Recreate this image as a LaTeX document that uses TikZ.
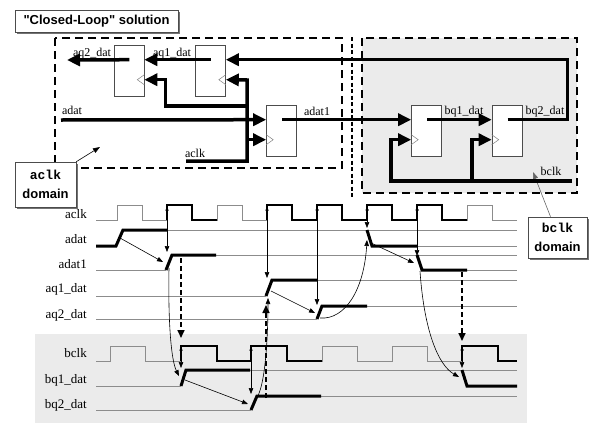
\documentclass[tikz,border=0pt]{standalone}
\usepackage{fontspec}
\setmainfont{Liberation Serif}
\newfontfamily\boxsans{Liberation Sans}
\newfontfamily\boxmono{Liberation Mono}
\usetikzlibrary{arrows.meta,calc,shadows}

\begin{document}
\begin{tikzpicture}[x=1pt, y=-1pt,
    ff/.style={draw=black!70, line width=0.6pt, fill=white, minimum width=30pt, minimum height=51pt, inner sep=0pt},
    clktri/.style={draw=black!50, line width=0.5pt},
    wire/.style={line width=3.5pt, -{Triangle[length=13pt,width=12pt]}},
    domainbox/.style={line width=2.2pt, dash pattern=on 8pt off 5pt},
    flabel/.style={font=\fontsize{12}{12}\selectfont, inner sep=0pt, anchor=base},
    sig/.style={font=\fontsize{13}{13}\selectfont, inner sep=0pt, anchor=base east},
    textbox/.style={draw=black!70, line width=0.6pt, fill=white, align=center, inner sep=0pt,
        general shadow={fill=black!55, shadow xshift=2pt, shadow yshift=-2pt}},
    lvl/.style={black!45, line width=0.8pt},
    hi/.style={line width=3pt},
    clkhi/.style={line width=2pt},
    cause/.style={line width=0.6pt, -{Triangle[length=6pt,width=4.5pt]}},
    xing/.style={line width=1.6pt, dash pattern=on 5pt off 3pt, -{Triangle[length=8pt,width=7pt]}},
    edgedot/.style={circle, fill, inner sep=0pt, minimum size=3.5pt}
]
    \useasboundingbox (0,0) rectangle (600,434);

    % Domains
    \fill[black!8] (35,334) rectangle (527,423);
    \filldraw[domainbox, fill=black!8] (362,38) rectangle (577,193);
    \draw[domainbox] (55,38) rectangle (342,168);
    \draw[line width=1.4pt, dash pattern=on 4pt off 2.5pt] (352,37) -- (352,198);

    % Boxes with text
    \node[textbox, font=\boxsans\bfseries\fontsize{13}{13}\selectfont, minimum width=163pt, minimum height=22pt] (title) at (96.5,21) {"Closed-Loop" solution};
    \node[textbox, font=\fontsize{13}{19}\selectfont, minimum width=61pt, minimum height=45pt] (aclkdom) at (45.5,184.5) {{\boxmono\bfseries aclk}\\{\boxsans\bfseries domain}};
    \node[textbox, font=\fontsize{13}{19}\selectfont, minimum width=59pt, minimum height=41pt] (bclkdom) at (557.5,237.5) {{\boxmono\bfseries bclk}\\{\boxsans\bfseries domain}};
    \coordinate (aclkdomtip) at (100,147);
    \coordinate (bclkdomtip) at (533,172);
    \draw[line width=0.6pt, -{Triangle[length=7pt,width=5pt]}] (aclkdom.north east) -- (aclkdomtip);
    \draw[black!60, line width=0.6pt, -{Triangle[length=7pt,width=5pt]}] ([xshift=-7pt]bclkdom.north) -- (bclkdomtip);

    % Flip-flops
    \node[ff] (ffaq2) at (129,70.5) {};
    \node[ff] (ffaq1) at (210.5,70.5) {};
    \node[ff] (ffadat1) at (281.5,130.5) {};
    \node[ff] (ffbq1) at (426.5,130.5) {};
    \node[ff] (ffbq2) at (507,130.5) {};

    % Pins
    \foreach \f in {aq2,aq1} {
        \coordinate (\f-d) at ($(ff\f.north east)+(0,15)$);
        \coordinate (\f-c) at ($(ff\f.north east)+(0,35)$);
        \coordinate (\f-q) at ($(ff\f.north east)+(-15,15)$);
        \draw[clktri] ($(\f-c)+(0,-5)$) -- ++(-7,5) -- ++(7,5);
    }
    \foreach \f in {adat1,bq1,bq2} {
        \coordinate (\f-d) at ($(ff\f.north west)+(0,15)$);
        \coordinate (\f-c) at ($(ff\f.north west)+(0,35)$);
        \coordinate (\f-q) at ($(ff\f.north west)+(16,15)$);
        \draw[clktri] ($(\f-c)+(0,-5)$) -- ++(7,5) -- ++(-7,5);
    }
    \coordinate (aq2out) at (67,60);
    \coordinate (adatin) at (61,120);
    \coordinate (aclkin) at (186,161);
    \coordinate (aclkbus) at (247,80);
    \coordinate (aclktap) at (247,106);
    \coordinate (bclkin) at (572,181);
    \coordinate (bclktap) at (472,181);

    % Wires
    \draw[wire] (bq2-q) -- ++(60,0) |- (aq1-d);
    \draw[wire] (aq1-q) -- (aq2-d);
    \draw[wire] (aq2-q) -- (aq2out);
    \draw[wire] (adatin) -- (adat1-d);
    \draw[wire] (adat1-q) -- (bq1-d);
    \draw[wire] (bq1-q) -- (bq2-d);
    \draw[wire] (aclkin) -| (aclkbus) -- (aq1-c);
    \draw[wire] (aclktap) -| ([xshift=21pt]aq2-c) -- (aq2-c);
    \draw[wire] (aclkbus |- adat1-c) -- (adat1-c);
    \draw[wire] (bclkin) -| ([xshift=-20pt]bq1-c) -- (bq1-c);
    \draw[wire] (bclktap) |- (bq2-c);

    % Wire labels
    \node[flabel] (lblaq2) at (92,56) {aq2\_dat};
    \node[flabel] (lblaq1) at (172,56) {aq1\_dat};
    \node[flabel] (lbladat) at (72,114) {adat};
    \node[flabel] (lblaclk) at (195,157) {aclk};
    \node[flabel] (lbladat1) at (317,115) {adat1};
    \node[flabel] (lblbq1) at (464,114) {bq1\_dat};
    \node[flabel] (lblbq2) at (545,114) {bq2\_dat};
    \node[flabel] (lblbclk) at (551,175) {bclk};

    % Signal names
    \node[sig] (saclk) at (87,218) {aclk};
    \node[sig] (sadat) at (87,243) {adat};
    \node[sig] (sadat1) at (87,268) {adat1};
    \node[sig] (saq1) at (87,292) {aq1\_dat};
    \node[sig] (saq2) at (87,318) {aq2\_dat};
    \node[sig] (sbclk) at (87,357) {bclk};
    \node[sig] (sbq1) at (87,383) {bq1\_dat};
    \node[sig] (sbq2) at (87,408) {bq2\_dat};

    % Clocks
    \draw[lvl] (96,220) \foreach \t in {117,167,...,467} { -- (\t,220) -- (\t,205) -- (\t+25,205) -- (\t+25,220) } -- (517,220);
    \draw[clkhi] (167,220) -- (167,205) -- (192,205) -- (192,220) -- (217,220);
    \draw[clkhi] (267,220) \foreach \t in {267,317,367,417} { -- (\t,220) -- (\t,205) -- (\t+25,205) -- (\t+25,220) -- (\t+50,220) };
    \draw[lvl] (96,361) \foreach \t in {110,181,251,322,392,462} { -- (\t,361) -- (\t,346) -- (\t+35.5,346) -- (\t+35.5,361) } -- (517,361);
    \draw[clkhi] (181,361) -- (181,346) -- (216.5,346) -- (216.5,361) -- (251,361) -- (251,346) -- (286.5,346) -- (286.5,361) -- (322,361);
    \draw[clkhi] (462,361) -- (462,346) -- (497.5,346) -- (497.5,361) -- (517,361);
    \foreach \t in {167,267,317,367,417} \node[edgedot] (ae\t) at (\t,210) {};
    \foreach \t in {181,251,462} \node[edgedot] (be\t) at (\t,350) {};

    % Data
    \draw[lvl] (167,230) -- (517,230);
    \draw[lvl] (417,246) -- (517,246);
    \draw[hi] (96,246) -- (116,246) -- (123,230) -- (167,230);
    \draw[hi] (367,230) -- (372,246) -- (417,246);
    \draw[lvl] (96,270) -- (166,270);
    \draw[lvl] (216,255) -- (517,255);
    \draw[lvl] (467,270) -- (517,270);
    \draw[hi] (166,270) -- (172,255) -- (216,255);
    \draw[hi] (417,255) -- (422,270) -- (467,270);
    \draw[lvl] (96,296) -- (266,296);
    \draw[lvl] (317,280) -- (517,280);
    \draw[hi] (266,296) -- (272,280) -- (317,280);
    \draw[lvl] (96,319) -- (317,319);
    \draw[lvl] (367,306) -- (517,306);
    \draw[hi] (317,319) -- (322,306) -- (367,306);
    \draw[lvl] (96,386) -- (181,386);
    \draw[lvl] (250,370) -- (517,370);
    \draw[hi] (181,386) -- (186,370) -- (250,370);
    \draw[hi] (462,370) -- (467,386) -- (517,386);
    \draw[lvl] (96,410) -- (251,410);
    \draw[lvl] (321,396) -- (517,396);
    \draw[hi] (251,410) -- (257,396) -- (321,396);

    % Transition points
    \coordinate (adatrise) at (120,238);
    \coordinate (adat1rise) at (163,262);
    \coordinate (adat1rise-top) at (167,252);
    \coordinate (adat1rise-low) at (169,268);
    \coordinate (adat1hi) at (181,258);
    \coordinate (bclkhi1) at (181,338);
    \coordinate (bq1rise) at (179,376);
    \coordinate (bq1rise-top) at (181,368);
    \coordinate (bq1rise-low) at (185,380);
    \coordinate (bq2rise) at (248,404);
    \coordinate (bq2rise-top) at (251,394);
    \coordinate (bq2rise-low) at (255,400);
    \coordinate (bq2hi) at (266,398);
    \coordinate (aq1low) at (266,305);
    \coordinate (aq1rise-low) at (268,298);
    \coordinate (aq1rise-top) at (267,278);
    \coordinate (aq1rise) at (271,291);
    \coordinate (aq2rise) at (315,313);
    \coordinate (aq2rise-top) at (317,305);
    \coordinate (aq2rise-low) at (320,318);
    \coordinate (adatfall) at (367,240);
    \coordinate (adatfall-top) at (367,228);
    \coordinate (adatfall-mid) at (371,243);
    \coordinate (adat1fall) at (414,263);
    \coordinate (adat1fall-top) at (417,256);
    \coordinate (adat1fall-low) at (420,271);
    \coordinate (adat1lo) at (462,272);
    \coordinate (bclkhi6) at (462,341);
    \coordinate (bq1fall) at (459,377);
    \coordinate (bq1fall-top) at (462,368);

    % Causes
    \draw[cause] (ae167) -- (adat1rise-top);
    \draw[cause] (adatrise) -- (adat1rise);
    \draw[cause] (adat1rise-low) .. controls (168,320) and (171,360) .. (bq1rise);
    \draw[xing] (adat1hi) -- (bclkhi1);
    \draw[cause] (be181) -- (bq1rise-top);
    \draw[cause] (bq1rise-low) -- (bq2rise);
    \draw[cause] (be251) -- (bq2rise-top);
    \draw[cause] (bq2rise-low) .. controls (266,390) and (268,330) .. (aq1rise-low);
    \draw[xing] (bq2hi) -- (aq1low);
    \draw[cause] (ae267) -- (aq1rise-top);
    \draw[cause] (aq1rise) -- (aq2rise);
    \draw[cause] (ae317) -- (aq2rise-top);
    \draw[cause] (aq2rise-low) .. controls (345,320) and (364,290) .. (adatfall);
    \draw[cause] (ae367) -- (adatfall-top);
    \draw[cause] (adatfall-mid) -- (adat1fall);
    \draw[cause] (ae417) -- (adat1fall-top);
    \draw[cause] (adat1fall-low) .. controls (424,330) and (438,365) .. (bq1fall);
    \draw[xing] (adat1lo) -- (bclkhi6);
    \draw[cause] (be462) -- (bq1fall-top);
\end{tikzpicture}
\end{document}
